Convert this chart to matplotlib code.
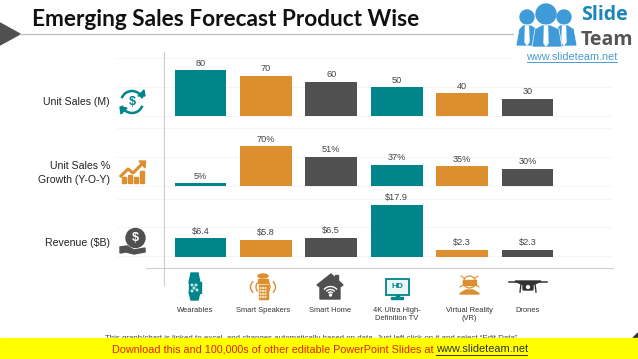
import matplotlib
matplotlib.use('Agg')
import matplotlib.pyplot as plt
from matplotlib.patches import Arc, Circle, Ellipse, FancyBboxPatch, Polygon, Rectangle

plt.rcParams['font.family'] = ['Liberation Sans', 'DejaVu Sans']

W, H = 638, 359
TEAL = '#00858a'
ORANGE = '#dd8f2f'
GRAY = '#505050'

products = ['Wearables', 'Smart Speakers', 'Smart Home', '4K Ultra High-\nDefinition TV', 'Virtual Reality\n(VR)', 'Drones']
bar_colors = [TEAL, ORANGE, GRAY, TEAL, ORANGE, GRAY]
unit_sales = [80, 70, 60, 50, 40, 30]
unit_growth = [5, 70, 51, 37, 35, 30]
revenue = [6.4, 5.8, 6.5, 17.9, 2.3, 2.3]
unit_labels = ['80', '70', '60', '50', '40', '30']
growth_labels = ['5%', '70%', '51%', '37%', '35%', '30%']
revenue_labels = ['$6.4', '$5.8', '$6.5', '$17.9', '$2.3', '$2.3']
row_names = ['Unit Sales (M)', 'Unit Sales %\nGrowth (Y-O-Y)', 'Revenue ($B)']

fig = plt.figure(figsize=(W / 100, H / 100), dpi=100, facecolor='white')


def pixel_axes(z):
    a = fig.add_axes([0, 0, 1, 1], zorder=z)
    a.set_xlim(0, W)
    a.set_ylim(H, 0)
    a.axis('off')
    a.patch.set_alpha(0)
    return a


# grid sits under the bars, everything else goes over them
bg = pixel_axes(1)
ov = pixel_axes(5)


def bar_row(values, labels, base, top, ymax):
    ax = fig.add_axes([163 / W, 1 - base / H, 450 / W, (base - top) / H], zorder=3)
    ax.patch.set_alpha(0)
    ax.bar(range(len(values)), values, width=0.79, color=bar_colors)
    for i, (v, s) in enumerate(zip(values, labels)):
        ax.annotate(s, (i, v), xytext=(0, 1.8), textcoords='offset points', ha='center', va='bottom',
                    fontsize=6.6, color='#444444')
    ax.set_xlim(-0.573, 6.307)
    ax.set_ylim(0, ymax)
    ax.axis('off')


bar_row(unit_sales, unit_labels, 116, 50, 114.8)
bar_row(unit_growth, growth_labels, 186, 130, 98)
bar_row(revenue, revenue_labels, 256.5, 190, 23.1)

for y in [58, 87, 116, 128, 157, 186, 199, 227, 256]:
    bg.plot([117, 612], [y, y], color='#f5f5f5', lw=0.7)
bg.plot([163.5, 163.5], [52, 285], color='#cccccc', lw=0.8)
bg.plot([146, 613], [267.5, 267.5], color='#cfcfcf', lw=0.8)

# title
ov.text(32, 19.5, 'Emerging Sales Forecast Product Wise', fontsize=16.3, fontweight='bold',
        family=['Lato', 'DejaVu Sans'], color='#111111', va='center', ha='left')
ov.plot([20, 513], [34, 34], color='#bdbdbd', lw=0.9)
ov.add_patch(Polygon([(0, 23), (20, 34), (0, 45)], color=GRAY))

# row names
ov.text(110, 102, row_names[0], fontsize=7.6, color='#222222', ha='right', va='center')
ov.text(110, 173, row_names[1], fontsize=7.6, color='#222222', ha='right', va='center', linespacing=1.45)
ov.text(110, 242.5, row_names[2], fontsize=7.6, color='#222222', ha='right', va='center')

# product names
for x, name in zip([195, 263, 330.5, 397, 469.5, 528], products):
    ov.text(x, 306.5, name, fontsize=5.4, color='#333333', ha='center', va='top', linespacing=1.4)

# row icons
ov.add_patch(Arc((132, 102), 22, 22, theta1=200, theta2=340, color=TEAL, lw=1.8))
ov.add_patch(Arc((132, 102), 22, 22, theta1=20, theta2=160, color=TEAL, lw=1.8))
ov.add_patch(Polygon([(138, 96), (145, 96), (144, 90)], color=TEAL))
ov.add_patch(Polygon([(120, 107), (127, 108), (121, 114)], color=TEAL))
ov.text(132.5, 102, '$', fontsize=9, fontweight='bold', color=TEAL, ha='center', va='center')

ov.plot([121, 128, 133, 143], [176, 169, 173, 163], color=ORANGE, lw=2.2)
ov.add_patch(Polygon([(139, 161), (145.5, 161), (145, 168)], color=ORANGE))
for x, h in [(122, 6), (128, 8), (134, 6), (140, 12)]:
    ov.add_patch(Rectangle((x, 184 - h - 1), 3.6, h, color=ORANGE))

ov.add_patch(Circle((135.5, 238), 9.5, color=GRAY))
ov.text(135.5, 238, '$', fontsize=9, fontweight='bold', color='white', ha='center', va='center')
ov.add_patch(Polygon([(120, 247), (127, 246), (134, 250), (145, 248), (145, 252), (134, 254), (126, 252), (120, 253)],
                     color=GRAY))

# product icons
ov.add_patch(Polygon([(191, 273), (198, 273), (200, 283), (189, 283)], color=TEAL))
ov.add_patch(Polygon([(189, 292), (200, 292), (198, 300), (191, 300)], color=TEAL))
ov.add_patch(Rectangle((188.5, 282), 12, 11, color=TEAL))
for x, y in [(192, 285), (196, 285), (194, 288), (192, 291), (197, 290)]:
    ov.add_patch(Circle((x, y), 0.8, color='#bfe3e3'))

ov.add_patch(Ellipse((263, 276), 10, 4, color=ORANGE))
ov.add_patch(Rectangle((258, 279), 10, 4, color=ORANGE))
ov.add_patch(Rectangle((258.5, 285), 9, 14, color=ORANGE))
for x in [260.5, 263, 265.5]:
    for y in [288, 291, 294, 297]:
        ov.add_patch(Circle((x, y), 0.5, color='#f5dcb8'))
for t1, t2 in [(140, 220), (-40, 40)]:
    ov.add_patch(Arc((263, 287), 14, 14, theta1=t1, theta2=t2, color=ORANGE, lw=1))
    ov.add_patch(Arc((263, 287), 25, 18, theta1=t1 + 10, theta2=t2 - 10, color=ORANGE, lw=1))

ov.add_patch(Polygon([(331, 274), (343, 285), (340, 287), (340, 299), (320, 299), (320, 287), (317, 285)], color=GRAY))
ov.add_patch(Rectangle((335, 275), 3, 6, color=GRAY))
# y axis is flipped here, so the wifi arcs need the lower angles to open downwards
for w_ in [17, 11, 6]:
    ov.add_patch(Arc((330.5, 295), w_, w_, theta1=220, theta2=320, color='white', lw=1))
ov.add_patch(Circle((330.5, 295), 1, color='white'))

ov.add_patch(Rectangle((385.5, 279), 23.5, 15.5, fc='#eaf6f6', ec=TEAL, lw=1.3))
ov.text(397, 286.5, 'HD', fontsize=6, fontweight='bold', color=TEAL, ha='center', va='center')
ov.add_patch(Rectangle((395.5, 295), 3, 2, color=TEAL))
ov.add_patch(Rectangle((391, 297), 12, 1.5, color=TEAL))

ov.add_patch(Circle((469.5, 282), 6, fc='none', ec=ORANGE, lw=0.9))
ov.add_patch(Rectangle((463, 279.5), 13, 5, color=ORANGE))
ov.add_patch(Polygon([(460, 293.5), (466, 290), (473, 290), (479, 293.5), (479, 294), (460, 294)], color=ORANGE))
for x0, x1, y0, y1 in [(461, 464, 276, 278), (478, 475, 276, 278), (460, 463, 287, 285), (479, 476, 287, 285)]:
    ov.plot([x0, x1], [y0, y1], color=ORANGE, lw=0.8)

ov.plot([509, 547], [282, 282], color='#333333', lw=1.1)
ov.add_patch(Polygon([(515, 281), (541, 281), (535, 284), (521, 284)], color='#333333'))
ov.add_patch(FancyBboxPatch((524, 284), 8, 5, boxstyle='round,pad=1', color='#333333'))
ov.plot([521, 520], [284, 292], color='#333333', lw=1)
ov.plot([535, 536], [284, 292], color='#333333', lw=1)
ov.add_patch(Circle((528, 287), 1.4, color='white'))

# logo
ov.add_patch(Rectangle((513, 0), 125, 62, color='white', zorder=1.5))
BLUE = '#3f9bd8'
for cx, cy, r, x0, x1, b in [(527, 17, 7, 516, 540, 46), (564, 17, 7, 553, 577, 46), (546, 14, 10, 532, 562, 47)]:
    ov.add_patch(Circle((cx, cy), r, color=BLUE, zorder=2))
    ov.add_patch(Polygon([(x0, b), (x0 + 3, cy + r + 5), (cx - 4, cy + r + 1), (cx + 4, cy + r + 1),
                          (x1 - 3, cy + r + 5), (x1, b)], fc=BLUE, ec='white', lw=0.5, zorder=2))
    ov.add_patch(Polygon([(cx - 1.5, cy + r + 2), (cx + 1.5, cy + r + 2), (cx + 2, b - 4), (cx, b - 1), (cx - 2, b - 4)],
                         color='white', zorder=2.5))
ov.text(581, 15, 'Slide', fontsize=14, fontweight='bold', color='#1c86b6', va='center', ha='left',
        family=['Open Sans', 'DejaVu Sans'], zorder=3)
ov.text(581, 40, 'Team', fontsize=14, fontweight='bold', color='#555555', va='center', ha='left',
        family=['Open Sans', 'DejaVu Sans'], zorder=3)
ov.text(572, 57, 'www.slideteam.net', fontsize=7.8, color='#4a9bd0', va='center', ha='center', zorder=3)
ov.plot([527, 617], [61.5, 61.5], color='#4a9bd0', lw=0.7, zorder=3)

# footnote, cut off by the banner
ov.text(312.5, 338, 'This graph/chart is linked to excel, and changes automatically based on data. '
        'Just left click on it and select \u201cEdit Data\u201d.', fontsize=5.7, color='#444444', ha='center',
        va='center', zorder=1)
ov.add_patch(Polygon([(633, 338), (638, 333), (638, 338)], color='#333333', zorder=1))

# download banner
ov.add_patch(Rectangle((0, 338), W, 21, color='#ffff00', zorder=4))
ov.text(111.5, 349.5, 'Download this and 100,000s of other editable PowerPoint Slides at', fontsize=7.75,
        color='#e3200f', ha='left', va='center', zorder=5)
ov.text(436, 349.5, 'www.slideteam.net', fontsize=7.9, color='#333333', ha='left', va='center', zorder=5)
ov.plot([436, 527], [354.5, 354.5], color='#333333', lw=0.7, zorder=5)

fig.savefig('out.png', dpi=100)
